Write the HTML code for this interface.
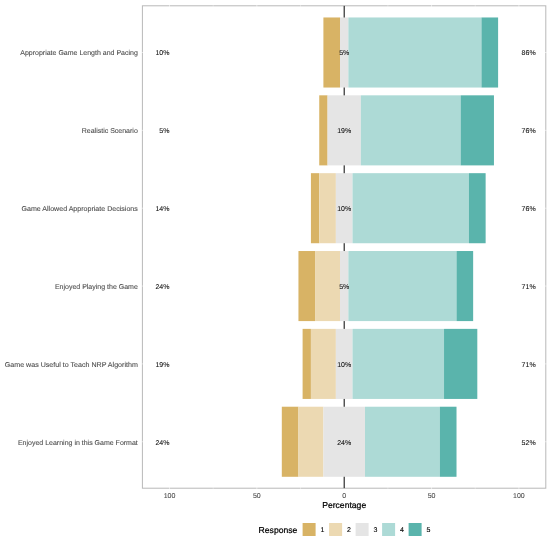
<!DOCTYPE html>
<html><head><meta charset="utf-8"><title>Likert chart</title>
<style>
html,body{margin:0;padding:0;background:#fff;}
body{width:550px;height:541px;overflow:hidden;}
svg{display:block;text-rendering:geometricPrecision;}
svg{font-family:"Liberation Sans",Arial,Helvetica,sans-serif;}
</style></head>
<body>
<svg width="550" height="541" viewBox="0 0 550 541">
<rect x="0" y="0" width="550" height="541" fill="#fff"/>
<rect x="142.4" y="5.8" width="403.4" height="482.4" fill="#fff" stroke="#B8B8B8" stroke-width="1"/>
<line x1="169.50" y1="4.8" x2="169.50" y2="489.2" stroke="#fff" stroke-width="0.55"/>
<line x1="213.17" y1="4.8" x2="213.17" y2="489.2" stroke="#fff" stroke-width="0.35"/>
<line x1="256.85" y1="4.8" x2="256.85" y2="489.2" stroke="#fff" stroke-width="0.55"/>
<line x1="300.52" y1="4.8" x2="300.52" y2="489.2" stroke="#fff" stroke-width="0.35"/>
<line x1="344.20" y1="4.8" x2="344.20" y2="489.2" stroke="#fff" stroke-width="0.55"/>
<line x1="387.88" y1="4.8" x2="387.88" y2="489.2" stroke="#fff" stroke-width="0.35"/>
<line x1="431.55" y1="4.8" x2="431.55" y2="489.2" stroke="#fff" stroke-width="0.55"/>
<line x1="475.23" y1="4.8" x2="475.23" y2="489.2" stroke="#fff" stroke-width="0.35"/>
<line x1="518.90" y1="4.8" x2="518.90" y2="489.2" stroke="#fff" stroke-width="0.55"/>
<line x1="141.4" y1="52.50" x2="546.8" y2="52.50" stroke="#fff" stroke-width="0.55"/>
<line x1="141.4" y1="130.35" x2="546.8" y2="130.35" stroke="#fff" stroke-width="0.55"/>
<line x1="141.4" y1="208.20" x2="546.8" y2="208.20" stroke="#fff" stroke-width="0.55"/>
<line x1="141.4" y1="286.05" x2="546.8" y2="286.05" stroke="#fff" stroke-width="0.55"/>
<line x1="141.4" y1="363.90" x2="546.8" y2="363.90" stroke="#fff" stroke-width="0.55"/>
<line x1="141.4" y1="441.75" x2="546.8" y2="441.75" stroke="#fff" stroke-width="0.55"/>
<line x1="344.2" y1="5.8" x2="344.2" y2="488.2" stroke="#1a1a1a" stroke-width="1.1"/>
<rect x="323.40" y="17.47" width="16.64" height="70.07" fill="#D8B365"/>
<rect x="340.04" y="17.47" width="8.32" height="70.07" fill="#E5E5E5"/>
<rect x="348.36" y="17.47" width="133.10" height="70.07" fill="#ADDAD6"/>
<rect x="481.46" y="17.47" width="16.64" height="70.07" fill="#5AB4AC"/>
<rect x="319.24" y="95.32" width="8.32" height="70.07" fill="#D8B365"/>
<rect x="327.56" y="95.32" width="33.28" height="70.07" fill="#E5E5E5"/>
<rect x="360.84" y="95.32" width="99.83" height="70.07" fill="#ADDAD6"/>
<rect x="460.67" y="95.32" width="33.28" height="70.07" fill="#5AB4AC"/>
<rect x="310.92" y="173.17" width="8.32" height="70.07" fill="#D8B365"/>
<rect x="319.24" y="173.17" width="16.64" height="70.07" fill="#ECD9B2"/>
<rect x="335.88" y="173.17" width="16.64" height="70.07" fill="#E5E5E5"/>
<rect x="352.52" y="173.17" width="116.47" height="70.07" fill="#ADDAD6"/>
<rect x="468.99" y="173.17" width="16.64" height="70.07" fill="#5AB4AC"/>
<rect x="298.45" y="251.01999999999998" width="16.64" height="70.07" fill="#D8B365"/>
<rect x="315.08" y="251.01999999999998" width="24.96" height="70.07" fill="#ECD9B2"/>
<rect x="340.04" y="251.01999999999998" width="8.32" height="70.07" fill="#E5E5E5"/>
<rect x="348.36" y="251.01999999999998" width="108.15" height="70.07" fill="#ADDAD6"/>
<rect x="456.51" y="251.01999999999998" width="16.64" height="70.07" fill="#5AB4AC"/>
<rect x="302.60" y="328.87" width="8.32" height="70.07" fill="#D8B365"/>
<rect x="310.92" y="328.87" width="24.96" height="70.07" fill="#ECD9B2"/>
<rect x="335.88" y="328.87" width="16.64" height="70.07" fill="#E5E5E5"/>
<rect x="352.52" y="328.87" width="91.51" height="70.07" fill="#ADDAD6"/>
<rect x="444.03" y="328.87" width="33.28" height="70.07" fill="#5AB4AC"/>
<rect x="281.81" y="406.72" width="16.64" height="70.07" fill="#D8B365"/>
<rect x="298.45" y="406.72" width="24.96" height="70.07" fill="#ECD9B2"/>
<rect x="323.40" y="406.72" width="41.60" height="70.07" fill="#E5E5E5"/>
<rect x="365.00" y="406.72" width="74.87" height="70.07" fill="#ADDAD6"/>
<rect x="439.87" y="406.72" width="16.64" height="70.07" fill="#5AB4AC"/>
<g class="t">
<text x="137.8" y="55.40" text-anchor="end" fill="#4D4D4D" stroke="#4D4D4D" stroke-width="0.1" font-size="7.0">Appropriate Game Length and Pacing</text>
<text x="169.4" y="55.40" text-anchor="end" fill="#111" stroke="#111" stroke-width="0.08" font-size="7.0">10%</text>
<text x="344.2" y="55.40" text-anchor="middle" fill="#111" stroke="#111" stroke-width="0.08" font-size="7.0">5%</text>
<text x="521.6" y="55.40" text-anchor="start" fill="#111" stroke="#111" stroke-width="0.08" font-size="7.0">86%</text>
<text x="137.8" y="133.25" text-anchor="end" fill="#4D4D4D" stroke="#4D4D4D" stroke-width="0.1" font-size="7.0">Realistic Scenario</text>
<text x="169.4" y="133.25" text-anchor="end" fill="#111" stroke="#111" stroke-width="0.08" font-size="7.0">5%</text>
<text x="344.2" y="133.25" text-anchor="middle" fill="#111" stroke="#111" stroke-width="0.08" font-size="7.0">19%</text>
<text x="521.6" y="133.25" text-anchor="start" fill="#111" stroke="#111" stroke-width="0.08" font-size="7.0">76%</text>
<text x="137.8" y="211.10" text-anchor="end" fill="#4D4D4D" stroke="#4D4D4D" stroke-width="0.1" font-size="7.0" textLength="116.3" lengthAdjust="spacingAndGlyphs">Game Allowed Appropriate Decisions</text>
<text x="169.4" y="211.10" text-anchor="end" fill="#111" stroke="#111" stroke-width="0.08" font-size="7.0">14%</text>
<text x="344.2" y="211.10" text-anchor="middle" fill="#111" stroke="#111" stroke-width="0.08" font-size="7.0">10%</text>
<text x="521.6" y="211.10" text-anchor="start" fill="#111" stroke="#111" stroke-width="0.08" font-size="7.0">76%</text>
<text x="137.8" y="288.95" text-anchor="end" fill="#4D4D4D" stroke="#4D4D4D" stroke-width="0.1" font-size="7.0">Enjoyed Playing the Game</text>
<text x="169.4" y="288.95" text-anchor="end" fill="#111" stroke="#111" stroke-width="0.08" font-size="7.0">24%</text>
<text x="344.2" y="288.95" text-anchor="middle" fill="#111" stroke="#111" stroke-width="0.08" font-size="7.0">5%</text>
<text x="521.6" y="288.95" text-anchor="start" fill="#111" stroke="#111" stroke-width="0.08" font-size="7.0">71%</text>
<text x="137.8" y="366.80" text-anchor="end" fill="#4D4D4D" stroke="#4D4D4D" stroke-width="0.1" font-size="7.0" textLength="133.0" lengthAdjust="spacingAndGlyphs">Game was Useful to Teach NRP Algorithm</text>
<text x="169.4" y="366.80" text-anchor="end" fill="#111" stroke="#111" stroke-width="0.08" font-size="7.0">19%</text>
<text x="344.2" y="366.80" text-anchor="middle" fill="#111" stroke="#111" stroke-width="0.08" font-size="7.0">10%</text>
<text x="521.6" y="366.80" text-anchor="start" fill="#111" stroke="#111" stroke-width="0.08" font-size="7.0">71%</text>
<text x="137.8" y="444.65" text-anchor="end" fill="#4D4D4D" stroke="#4D4D4D" stroke-width="0.1" font-size="7.0">Enjoyed Learning in this Game Format</text>
<text x="169.4" y="444.65" text-anchor="end" fill="#111" stroke="#111" stroke-width="0.08" font-size="7.0">24%</text>
<text x="344.2" y="444.65" text-anchor="middle" fill="#111" stroke="#111" stroke-width="0.08" font-size="7.0">24%</text>
<text x="521.6" y="444.65" text-anchor="start" fill="#111" stroke="#111" stroke-width="0.08" font-size="7.0">52%</text>
<text x="169.50" y="498.2" text-anchor="middle" fill="#4D4D4D" stroke="#4D4D4D" stroke-width="0.1" font-size="7.0">100</text>
<text x="256.85" y="498.2" text-anchor="middle" fill="#4D4D4D" stroke="#4D4D4D" stroke-width="0.1" font-size="7.0">50</text>
<text x="344.20" y="498.2" text-anchor="middle" fill="#4D4D4D" stroke="#4D4D4D" stroke-width="0.1" font-size="7.0">0</text>
<text x="431.55" y="498.2" text-anchor="middle" fill="#4D4D4D" stroke="#4D4D4D" stroke-width="0.1" font-size="7.0">50</text>
<text x="518.90" y="498.2" text-anchor="middle" fill="#4D4D4D" stroke="#4D4D4D" stroke-width="0.1" font-size="7.0">100</text>
<text x="344.2" y="507.8" text-anchor="middle" fill="#000" stroke="#000" stroke-width="0.22" font-size="8.6">Percentage</text>
<text x="258.6" y="533.2" text-anchor="start" fill="#000" stroke="#000" stroke-width="0.22" font-size="8.6">Response</text>
<rect x="302.60" y="523" width="13" height="13" fill="#D8B365"/>
<text x="320.50" y="532.4" text-anchor="start" fill="#000" stroke="#000" stroke-width="0.12" font-size="7.0">1</text>
<rect x="329.10" y="523" width="13" height="13" fill="#ECD9B2"/>
<text x="347.00" y="532.4" text-anchor="start" fill="#000" stroke="#000" stroke-width="0.12" font-size="7.0">2</text>
<rect x="355.60" y="523" width="13" height="13" fill="#E5E5E5"/>
<text x="373.50" y="532.4" text-anchor="start" fill="#000" stroke="#000" stroke-width="0.12" font-size="7.0">3</text>
<rect x="382.10" y="523" width="13" height="13" fill="#ADDAD6"/>
<text x="400.00" y="532.4" text-anchor="start" fill="#000" stroke="#000" stroke-width="0.12" font-size="7.0">4</text>
<rect x="408.60" y="523" width="13" height="13" fill="#5AB4AC"/>
<text x="426.50" y="532.4" text-anchor="start" fill="#000" stroke="#000" stroke-width="0.12" font-size="7.0">5</text>
</g>
</svg>
</body></html>
